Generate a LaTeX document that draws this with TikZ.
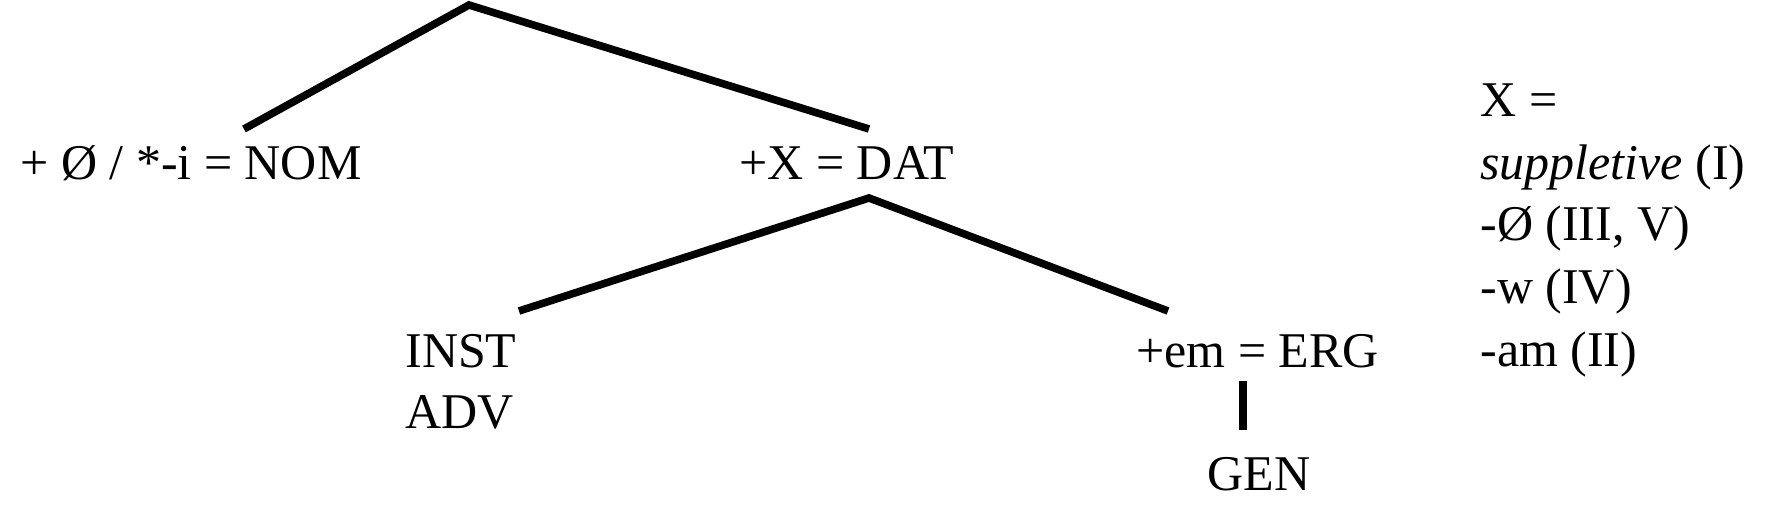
\documentclass[tikz,border=0pt]{standalone}
\usepackage{fontspec}
\setmainfont{Liberation Serif}
\begin{document}
\begin{tikzpicture}[x=0.5pt,y=-0.5pt,
    branch/.style={line width=3.8pt},
    lab/.style={anchor=base west,inner sep=0pt,font=\fontsize{25}{30}\selectfont}]
            \useasboundingbox (0,0) rectangle (1785,528);
            \node[lab] (nom) at (20,180) {+ Ø / *-i = NOM};
            \node[lab] (dat) at (739,180) {+X = DAT};
            \node[lab] (inst) at (405,368) {INST};
            \node[lab] (adv) at (405,429) {ADV};
            \node[lab] (erg) at (1136,368) {+em = ERG};
            \node[lab] (gen) at (1207,491) {GEN};
            \node[lab] (x0) at (1480,117) {X =};
            \node[lab] (x1) at (1480,180) {\textit{suppletive} (I)};
            \node[lab] (x2) at (1480,241) {-Ø (III, V)};
            \node[lab] (x3) at (1480,304) {-w (IV)};
            \node[lab] (x4) at (1480,367) {-am (II)};
            \coordinate (root) at (469,5);
            \coordinate (nomtop) at (244,129);
            \coordinate (dattop) at (869,129);
            \coordinate (datbot) at (869,198);
            \coordinate (insttop) at (519,311);
            \coordinate (ergtop) at (1168,311);
            \coordinate (ergbot) at (1243,381);
            \coordinate (gentop) at (1243,430);
            \draw[branch] (nomtop)--(root)--(dattop);
            \draw[branch] (insttop)--(datbot)--(ergtop);
            \draw[branch] (ergbot)--(gentop);
        \end{tikzpicture}
\end{document}
